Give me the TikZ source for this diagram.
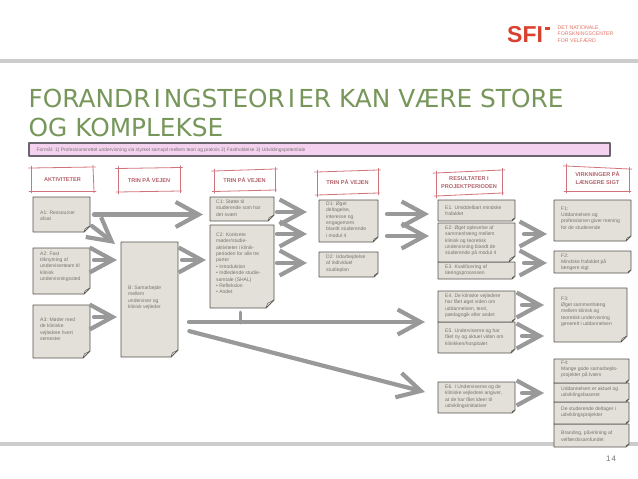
\documentclass[tikz,border=0pt]{standalone}
\usepackage{fontspec}
\setmainfont{Liberation Sans}
\newfontfamily\titlefont{DejaVu Sans}
\newfontfamily\markerfont{Liberation Sans}
\usetikzlibrary{arrows.meta,fit,calc}
\definecolor{titlegreen}{HTML}{76965A}
\definecolor{bandgrey}{HTML}{CCCCCC}
\definecolor{sheetpaper}{HTML}{E3E0D9}
\definecolor{sheetedge}{HTML}{55524D}
\definecolor{sheettext}{HTML}{77746F}
\definecolor{arrowgrey}{HTML}{999999}
\definecolor{markerred}{HTML}{D0737B}
\definecolor{sfired}{HTML}{D8412F}
\definecolor{purposepink}{HTML}{F4D2EF}
\definecolor{purposeedge}{HTML}{6B6570}
\tikzset{
  sheetbox/.style={inner sep=0pt,outer sep=0pt},
  sheetline/.style={draw=sheetedge,fill=sheetpaper,line width=0.9pt},
  sheetfold/.style={draw=sheetedge,fill=white!75!sheetedge,line width=0.4pt},
  sheetlabel/.style={inner sep=0pt,anchor=north west,align=left,yshift=-1pt,text=sheettext,font=\fontsize{5}{6.4}\selectfont},
  headline/.style={draw=markerred,line width=0.8pt},
  headlabel/.style={inner sep=0pt,align=center,text=markerred!85!black,font=\markerfont\bfseries\fontsize{5.6}{8}\selectfont},
  grarrow/.style={->,draw=arrowgrey,line width=4.2pt},
  stubline/.style={draw=arrowgrey,line width=3pt}
}
% \sheet[fold]{name}{corner}{corner}{text position}{text}
\newcommand{\sheet}[6][3]{
  \node [sheetbox,fit={(#3)(#4)}] (#2) {};
  \draw [sheetline] (#2.north west) -- (#2.north east) -- ([yshift=#1pt]#2.south east) -- ([xshift=-#1pt]#2.south east) -- (#2.south west) -- cycle;
  \draw [sheetfold] ([yshift=#1pt]#2.south east) -- ([xshift=-#1pt]#2.south east) -- ([shift={(-0.8*#1,-0.6*#1)}]#2.south east) -- cycle;
  \node [sheetlabel] (#2text) at (#5) {#6};
}
% \headbox{name}{nw}{ne}{se}{sw}{text}
\newcommand{\headbox}[6]{
  \coordinate (#1nw) at (#2);
  \coordinate (#1ne) at (#3);
  \coordinate (#1se) at (#4);
  \coordinate (#1sw) at (#5);
  \draw [headline] ($(#1nw)!-0.04!(#1ne)$) -- ($(#1ne)!-0.04!(#1nw)$);
  \draw [headline] ($(#1ne)!-0.07!(#1se)$) -- ($(#1se)!-0.07!(#1ne)$);
  \draw [headline] ($(#1se)!-0.03!(#1sw)$) -- ($(#1sw)!-0.03!(#1se)$);
  \draw [headline] ($(#1sw)!-0.08!(#1nw)$) -- ($(#1nw)!-0.08!(#1sw)$);
  \node [headlabel] (#1text) at ($(#1nw)!0.5!(#1se)$) {#6};
}

\begin{document}
\begin{tikzpicture}[line cap=round,line join=round,>={Straight Barb[length=23pt,width=25pt]},x=1pt,y=-1pt]
\useasboundingbox (0,0) rectangle (638,479);

\fill [bandgrey] (0,59) rectangle (638,63);
\fill [bandgrey] (0,442) rectangle (638,446);

\node [inner sep=0pt,anchor=west,text=sfired,font=\bfseries\fontsize{23}{23}\selectfont] (sfi) at (507,35) {SFI};
\fill [sfired] (544.5,27) rectangle (549.5,29.5);
\node [inner sep=0pt,anchor=north west,align=left,text=sfired!75!white,font=\fontsize{5.2}{6.4}\selectfont] (sfiname) at (557.5,25.6) {DET NATIONALE\\FORSKNINGSCENTER\\FOR VELF\AE RD};

\node [inner sep=0pt,anchor=north west,align=left,text=titlegreen,font=\titlefont\fontsize{24.8}{29}\selectfont] (title) at (28.5,88.5) {FORANDR\kern3pt I\kern3pt NGSTEOR\kern3pt I\kern3pt ER KAN V\AE RE STORE\\OG KOMPLEKSE};

\node [inner sep=0pt,fit={(29,143)(610,156)},draw=purposeedge,fill=purposepink,line width=1.3pt] (purpose) {};
\node [inner sep=0pt,anchor=west,text=sheettext,font=\fontsize{4.9}{6}\selectfont] (purposetext) at (36.5,150) {Form\aa l: 1) Professionsrettet undervisning via styrket samspil mellem teori og praksis 2) Fastholdelse 3) Udviklingspotentiale};

\headbox{aktiv}{31,168}{93,167}{94,191}{31,191}{AKTIVITETER}
\headbox{trina}{118,168.5}{180,167.5}{180,191}{118,192}{TRIN P\AA{} VEJEN}
\headbox{trinb}{214,171}{275,169}{275,190}{214,191.5}{TRIN P\AA{} VEJEN}
\headbox{trinc}{317,172}{378,170}{378,193}{317,195}{TRIN P\AA{} VEJEN}
\headbox{resul}{436,173}{502,170}{502,193}{436,196}{RESULTATER I\\PROJEKTPERIODEN}
\headbox{virkn}{566,166}{629,169}{629,191}{566,191}{VIRKNINGER P\AA\\L\AE NGERE SIGT}

\sheet[6]{A1}{33,197}{90,232}{40,209.8}{A1: Ressourcer\\afsat}
\sheet[6]{A2}{33,248}{90,294}{40,250.5}{A2: Fast\\tilknytning af\\underviserteam til\\klinisk\\undervisningssted}
\sheet[7]{A3}{33,305}{90,358}{40,316.5}{A3: M\o der med\\de kliniske\\vejledere hvert\\semester}
\sheet[7]{B}{121,242}{178,357}{128,284.5}{B: Samarbejde\\mellem\\underviser og\\klinisk vejleder}
\sheet[6]{C1}{210,197}{274,221}{216,198.5}{C1: St\o tte til\\studerende som har\\det sv\ae rt}
\sheet[8]{C2}{210,225}{274,308}{216,231.5}{C2: Konkrete\\m\o der/studie-\\aktiviteter i klinik-\\perioden for alle tre\\parter\\\textbullet{} Introduktion\\\textbullet{} Indledende studie-\\samtale (SHAL)\\\textbullet{} Refleksion\\\textbullet{} Andet}
\sheet[5]{D1}{319,200}{378,242}{326,200.5}{D1: \O get\\deltagelse,\\interesse og\\engagement\\blandt studerende\\i modul 4}
\sheet[4]{D2}{319,252}{378,277}{326,253.5}{D2: Udarbejdelse\\af individuel\\studieplan}
\sheet{E1}{438,200}{515,221}{445,204.5}{E1. Umiddelbart mindske\\frafaldet}
\sheet{E3}{438,262}{515,279}{445,263.5}{E3. Kvalificering af\\l\ae ringsprocessen}
\sheet[6]{E2}{438,223}{515,262}{445,224.5}{E2: \O get oplevelse af\\sammenh\ae ng mellem\\klinisk og teoretisk\\undervisning blandt de\\studerende p\aa{} modul 4}
\sheet[5]{F1}{554,200}{631,241}{561,205.5}{F1:\\Uddannelsen og\\professionen giver mening\\for de studerende}
\sheet{F2}{554,251}{631,273}{561,252.5}{F2:\\Mindske frafaldet p\aa\\l\ae ngere sigt}
\sheet[4]{E5}{438,322}{515,353}{445,327.5}{E5. Underviserne og har\\f\aa et ny og aktuel viden om\\klinikken/hospitalet}
\sheet{E4}{438,291}{515,322}{445,292.5}{E4. De kliniske vejledere\\har f\aa et \o get viden om\\uddannelsen, teori,\\p\ae dagogik eller andet}
\sheet[6]{F3}{554,288}{627,342}{561,295.5}{F3:\\\O get sammenh\ae ng\\mellem klinisk og\\teoretisk undervisning\\generelt i uddannelsen}
\sheet{E6}{438,382}{515,413}{445,383.5}{E6. I Underviserne og de\\kliniske vejledere angiver,\\at de har f\aa et ideer til\\udviklingsinitiativer}
\sheet{F7}{554,424}{629,447}{561,429.5}{Branding, p\aa virkning af\\velf\ae rdssamfundet}
\sheet{F6}{554,402}{629,424}{561,405.5}{De studerende deltager i\\udviklingsprojekter}
\sheet{F5}{554,383}{629,402}{561,385.5}{Uddannelsen er aktuel og\\udviklingsbaseret}
\sheet{F4}{554,359}{629,383}{561,359.5}{F4:\\Mange gode samarbejds-\\projekter p\aa{} tv\ae rs}

\draw [grarrow,shorten <=4pt,shorten >=7pt] (A1.east) -- (A1.east -| C1.west);
\draw [grarrow] ([shift={(2,-6)}]A1.south east) -- ([shift={(-6,2)}]B.north west);
\draw [grarrow,shorten <=4pt,shorten >=4pt] ([yshift=11pt]A2.east) -- ([yshift=11pt]A2.east -| B.west);
\draw [grarrow,shorten <=4pt,shorten >=4pt] ([yshift=14.5pt]A3.east) -- ([yshift=14.5pt]A3.east -| B.west);
\draw [grarrow,shorten <=4pt,shorten >=4pt] ([yshift=39.5pt]B.east) -- ([yshift=39.5pt]B.east -| C2.west);
\draw [grarrow,shorten <=3pt,shorten >=12pt] ([yshift=-3pt]C1.east) -- ([yshift=-3pt]C1.east -| D1.west);
\draw [grarrow,shorten <=3pt,shorten >=12pt] ([yshift=32.5pt]C2.east) -- ([yshift=32.5pt]C2.east -| D1.west);
\draw [grarrow,shorten <=3pt,shorten >=12pt] ([yshift=3.5pt]C2.east) -- ([yshift=3.5pt]C2.east -| D2.west);
\draw [grarrow,shorten <=9pt,shorten >=9pt] ([yshift=7pt]D1.east) -- ([yshift=7pt]D1.east -| E1.west);
\draw [grarrow,shorten <=9pt,shorten >=9pt] ([yshift=-15pt]D1.east) -- ([yshift=-15pt]D1.east -| E2.west);
\draw [grarrow,shorten <=9pt,shorten >=7pt] ([yshift=8.5pt]E2.east) -- ([yshift=8.5pt]E2.east -| F1.west);
\draw [grarrow,shorten <=9pt,shorten >=7pt] ([yshift=7.5pt]E3.east) -- ([yshift=7.5pt]E3.east -| F2.west);
\draw [grarrow,shorten <=7pt,shorten >=10pt] ([yshift=1.5pt]E4.east) -- ([yshift=1.5pt]E4.east -| F3.west);
\draw [grarrow,shorten <=7pt,shorten >=10pt] ([yshift=1.5pt]E5.east) -- ([yshift=1.5pt]E5.east -| F3.west);
\draw [grarrow,shorten <=7pt,shorten >=10pt] ([yshift=4.5pt]E6.east) -- ([yshift=4.5pt]E6.east -| F5.west);
\draw [grarrow,shorten <=11pt,shorten >=13pt] ([yshift=-22.5pt]B.east) -- ([yshift=-22.5pt]B.east -| E4.west);
\draw [grarrow,shorten <=11.7pt,shorten >=13.4pt] ([yshift=-28.7pt]B.east) -- ([yshift=2.1pt]E6.west);
\draw [stubline] ([shift={(-2,4)}]C2.south) -- ++(0,11);

\node [inner sep=0pt,text=sheettext,font=\fontsize{8}{8}\selectfont] (pagenr) at (611,459) {1\kern1pt 4};
\end{tikzpicture}
\end{document}
